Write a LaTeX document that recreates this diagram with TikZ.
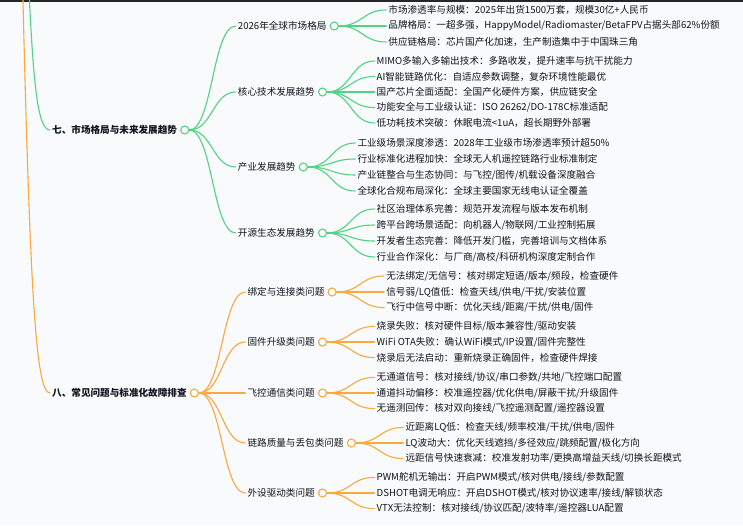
\documentclass[tikz,border=0pt]{standalone}
\usepackage{fontspec}
\setmainfont{Noto Sans CJK SC}
\usetikzlibrary{calc, positioning}

\definecolor{mapGreen}{RGB}{80,212,132}
\definecolor{mapOrange}{RGB}{251,168,62}
\definecolor{mapBg}{RGB}{248,250,252}
\definecolor{mapInk}{RGB}{17,20,28}

\tikzset{
  twig/.style={line width=1.1pt, line cap=round,
    to path={.. controls ($(\tikztostart)!0.5!(\tikztotarget |- \tikztostart)$)
      and ($(\tikztotarget)!0.5!(\tikztostart |- \tikztotarget)$) .. (\tikztotarget)}},
}

\begin{document}
\begin{tikzpicture}[x=1pt, y=-1pt,
  every node/.style={font=\fontsize{9.6pt}{11pt}\selectfont, text=mapInk, inner sep=2pt},
  topic/.style={anchor=west, font=\fontsize{9.6pt}{11pt}\selectfont\bfseries},
  branch/.style={anchor=west},
  leaf/.style={anchor=west},
  knob/.style={circle, draw=#1, fill=white, line width=1.1pt, minimum size=8pt, inner sep=0pt}]
  \useasboundingbox (0,0) rectangle (743,525);
  \clip (0,0) rectangle (743,525);
  \fill[mapBg] (0,0) rectangle (743,525);
  \fill[black!85] (0,0) rectangle (743,1.5);

  % main topics
  \node[topic] (sec7) at (50,130) {七、市场格局与未来发展趋势};
  \node[knob=mapGreen, right=1pt of sec7] (sec7Dot) {};
  \node[topic] (sec8) at (50,393) {八、常见问题与标准化故障排查};
  \node[knob=mapOrange, right=1pt of sec8] (sec8Dot) {};
  \coordinate (rootGreen) at (28,-30);
  \coordinate (rootOrange) at (22,-40);
  \draw[mapGreen, line width=1.1pt] (rootGreen) .. controls (33,80) and (37,130) .. (sec7.west);
  \draw[mapOrange, line width=1.1pt] (rootOrange) .. controls (30,300) and (36,393) .. (sec8.west);

  % 七
  \node[branch] (market) at ($(sec7Dot)+(51,-104)$) {2026年全球市场格局};
  \node[knob=mapGreen, right=1pt of market] (marketDot) {};
  \node[branch] (tech) at ($(sec7Dot)+(51,-38)$) {核心技术发展趋势};
  \node[knob=mapGreen, right=1pt of tech] (techDot) {};
  \node[branch] (industry) at ($(sec7Dot)+(51,37)$) {产业发展趋势};
  \node[knob=mapGreen, right=1pt of industry] (industryDot) {};
  \node[branch] (openSrc) at ($(sec7Dot)+(51,103)$) {开源生态发展趋势};
  \node[knob=mapGreen, right=1pt of openSrc] (openSrcDot) {};
  \draw[twig, mapGreen] (sec7Dot.east) to (market.west);
  \draw[twig, mapGreen] (sec7Dot.east) to (tech.west);
  \draw[twig, mapGreen] (sec7Dot.east) to (industry.west);
  \draw[twig, mapGreen] (sec7Dot.east) to (openSrc.west);

  \node[leaf] (market1) at ($(marketDot)+(52,-16)$) {市场渗透率与规模：2025年出货1500万套，规模30亿+人民币};
  \node[leaf] (market2) at ($(marketDot)+(52,0)$) {品牌格局：一超多强，HappyModel/Radiomaster/BetaFPV占据头部62\%份额};
  \node[leaf] (market3) at ($(marketDot)+(52,16)$) {供应链格局：芯片国产化加速，生产制造集中于中国珠三角};
  \draw[twig, mapGreen] (marketDot.east) to (market1.west);
  \draw[twig, mapGreen] (marketDot.east) to (market2.west);
  \draw[twig, mapGreen] (marketDot.east) to (market3.west);

  \node[leaf] (tech1) at ($(techDot)+(52,-31)$) {MIMO多输入多输出技术：多路收发，提升速率与抗干扰能力};
  \node[leaf] (tech2) at ($(techDot)+(52,-15.5)$) {AI智能链路优化：自适应参数调整，复杂环境性能最优};
  \node[leaf] (tech3) at ($(techDot)+(52,0)$) {国产芯片全面适配：全国产化硬件方案，供应链安全};
  \node[leaf] (tech4) at ($(techDot)+(52,15.5)$) {功能安全与工业级认证：ISO 26262/DO-178C标准适配};
  \node[leaf] (tech5) at ($(techDot)+(52,31)$) {低功耗技术突破：休眠电流<1uA，超长期野外部署};
  \draw[twig, mapGreen] (techDot.east) to (tech1.west);
  \draw[twig, mapGreen] (techDot.east) to (tech2.west);
  \draw[twig, mapGreen] (techDot.east) to (tech3.west);
  \draw[twig, mapGreen] (techDot.east) to (tech4.west);
  \draw[twig, mapGreen] (techDot.east) to (tech5.west);

  \node[leaf] (industry1) at ($(industryDot)+(52,-24)$) {工业级场景深度渗透：2028年工业级市场渗透率预计超50\%};
  \node[leaf] (industry2) at ($(industryDot)+(52,-8)$) {行业标准化进程加快：全球无人机遥控链路行业标准制定};
  \node[leaf] (industry3) at ($(industryDot)+(52,8)$) {产业链整合与生态协同：与飞控/图传/机载设备深度融合};
  \node[leaf] (industry4) at ($(industryDot)+(52,24)$) {全球化合规布局深化：全球主要国家无线电认证全覆盖};
  \draw[twig, mapGreen] (industryDot.east) to (industry1.west);
  \draw[twig, mapGreen] (industryDot.east) to (industry2.west);
  \draw[twig, mapGreen] (industryDot.east) to (industry3.west);
  \draw[twig, mapGreen] (industryDot.east) to (industry4.west);

  \node[leaf] (openSrc1) at ($(openSrcDot)+(52,-24)$) {社区治理体系完善：规范开发流程与版本发布机制};
  \node[leaf] (openSrc2) at ($(openSrcDot)+(52,-8)$) {跨平台跨场景适配：向机器人/物联网/工业控制拓展};
  \node[leaf] (openSrc3) at ($(openSrcDot)+(52,8)$) {开发者生态完善：降低开发门槛，完善培训与文档体系};
  \node[leaf] (openSrc4) at ($(openSrcDot)+(52,24)$) {行业合作深化：与厂商/高校/科研机构深度定制合作};
  \draw[twig, mapGreen] (openSrcDot.east) to (openSrc1.west);
  \draw[twig, mapGreen] (openSrcDot.east) to (openSrc2.west);
  \draw[twig, mapGreen] (openSrcDot.east) to (openSrc3.west);
  \draw[twig, mapGreen] (openSrcDot.east) to (openSrc4.west);

  % 八
  \node[branch] (bind) at ($(sec8Dot)+(51,-101)$) {绑定与连接类问题};
  \node[knob=mapOrange, right=1pt of bind] (bindDot) {};
  \node[branch] (firmware) at ($(sec8Dot)+(51,-51)$) {固件升级类问题};
  \node[knob=mapOrange, right=1pt of firmware] (firmwareDot) {};
  \node[branch] (fcLink) at ($(sec8Dot)+(51,0)$) {飞控通信类问题};
  \node[knob=mapOrange, right=1pt of fcLink] (fcLinkDot) {};
  \node[branch] (quality) at ($(sec8Dot)+(51,50)$) {链路质量与丢包类问题};
  \node[knob=mapOrange, right=1pt of quality] (qualityDot) {};
  \node[branch] (periph) at ($(sec8Dot)+(51,100)$) {外设驱动类问题};
  \node[knob=mapOrange, right=1pt of periph] (periphDot) {};
  \draw[twig, mapOrange] (sec8Dot.east) to (bind.west);
  \draw[twig, mapOrange] (sec8Dot.east) to (firmware.west);
  \draw[twig, mapOrange] (sec8Dot.east) to (fcLink.west);
  \draw[twig, mapOrange] (sec8Dot.east) to (quality.west);
  \draw[twig, mapOrange] (sec8Dot.east) to (periph.west);

  \node[leaf] (bind1) at ($(bindDot)+(52,-16)$) {无法绑定/无信号：核对绑定短语/版本/频段，检查硬件};
  \node[leaf] (bind2) at ($(bindDot)+(52,0)$) {信号弱/LQ值低：检查天线/供电/干扰/安装位置};
  \node[leaf] (bind3) at ($(bindDot)+(52,15.6)$) {飞行中信号中断：优化天线/距离/干扰/供电/固件};
  \draw[twig, mapOrange] (bindDot.east) to (bind1.west);
  \draw[twig, mapOrange] (bindDot.east) to (bind2.west);
  \draw[twig, mapOrange] (bindDot.east) to (bind3.west);

  \node[leaf] (firmware1) at ($(firmwareDot)+(52,-15.6)$) {烧录失败：核对硬件目标/版本兼容性/驱动安装};
  \node[leaf] (firmware2) at ($(firmwareDot)+(52,0)$) {WiFi OTA失败：确认WiFi模式/IP设置/固件完整性};
  \node[leaf] (firmware3) at ($(firmwareDot)+(52,15.6)$) {烧录后无法启动：重新烧录正确固件，检查硬件焊接};
  \draw[twig, mapOrange] (firmwareDot.east) to (firmware1.west);
  \draw[twig, mapOrange] (firmwareDot.east) to (firmware2.west);
  \draw[twig, mapOrange] (firmwareDot.east) to (firmware3.west);

  \node[leaf] (fcLink1) at ($(fcLinkDot)+(52,-15.6)$) {无通道信号：核对接线/协议/串口参数/共地/飞控端口配置};
  \node[leaf] (fcLink2) at ($(fcLinkDot)+(52,0)$) {通道抖动偏移：校准遥控器/优化供电/屏蔽干扰/升级固件};
  \node[leaf] (fcLink3) at ($(fcLinkDot)+(52,15.6)$) {无遥测回传：核对双向接线/飞控遥测配置/遥控器设置};
  \draw[twig, mapOrange] (fcLinkDot.east) to (fcLink1.west);
  \draw[twig, mapOrange] (fcLinkDot.east) to (fcLink2.west);
  \draw[twig, mapOrange] (fcLinkDot.east) to (fcLink3.west);

  \node[leaf] (quality1) at ($(qualityDot)+(52,-15.6)$) {近距离LQ低：检查天线/频率校准/干扰/供电/固件};
  \node[leaf] (quality2) at ($(qualityDot)+(52,0)$) {LQ波动大：优化天线遮挡/多径效应/跳频配置/极化方向};
  \node[leaf] (quality3) at ($(qualityDot)+(52,15.6)$) {远距信号快速衰减：校准发射功率/更换高增益天线/切换长距模式};
  \draw[twig, mapOrange] (qualityDot.east) to (quality1.west);
  \draw[twig, mapOrange] (qualityDot.east) to (quality2.west);
  \draw[twig, mapOrange] (qualityDot.east) to (quality3.west);

  \node[leaf] (periph1) at ($(periphDot)+(52,-15.6)$) {PWM舵机无输出：开启PWM模式/核对供电/接线/参数配置};
  \node[leaf] (periph2) at ($(periphDot)+(52,0)$) {DSHOT电调无响应：开启DSHOT模式/核对协议速率/接线/解锁状态};
  \node[leaf] (periph3) at ($(periphDot)+(52,15.6)$) {VTX无法控制：核对接线/协议匹配/波特率/遥控器LUA配置};
  \draw[twig, mapOrange] (periphDot.east) to (periph1.west);
  \draw[twig, mapOrange] (periphDot.east) to (periph2.west);
  \draw[twig, mapOrange] (periphDot.east) to (periph3.west);
\end{tikzpicture}
\end{document}
